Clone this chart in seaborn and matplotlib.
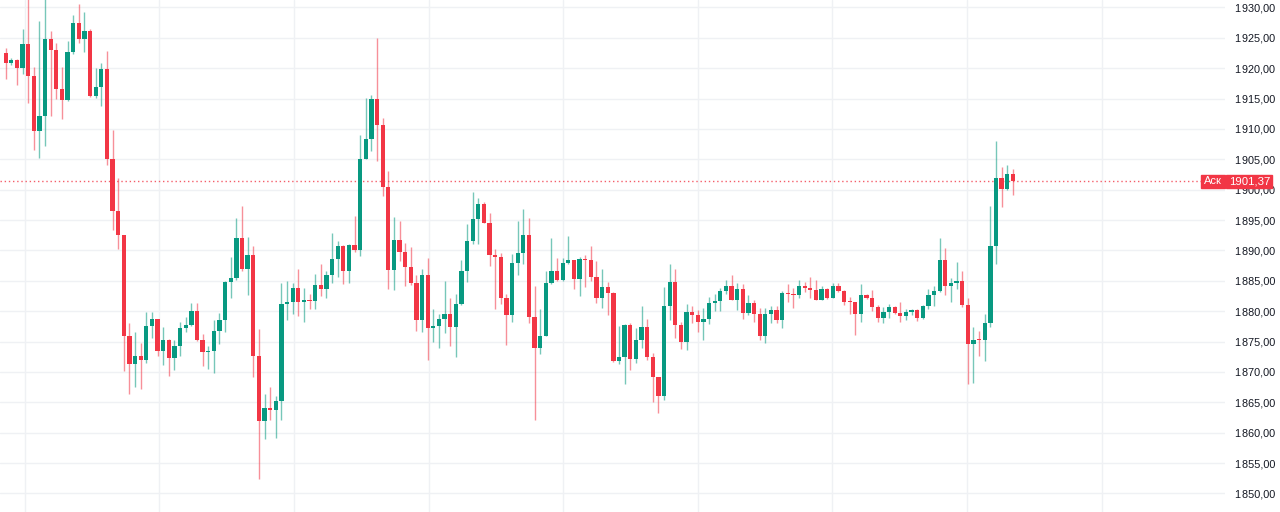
import numpy as np
import pandas as pd
import seaborn as sns
import matplotlib
matplotlib.use("Agg")
import matplotlib.pyplot as plt
from matplotlib.patches import Rectangle
from matplotlib.transforms import blended_transform_factory

# OHLC values (one entry per candle)
opens = [1922.5, 1920.8, 1921.3, 1920.0, 1924.0, 1918.7, 1909.6, 1912.1, 1924.8, 1923.0,
         1916.5, 1914.7, 1922.6, 1927.4, 1924.8, 1926.2, 1915.5, 1916.9, 1919.8, 1905.1,
         1896.5, 1892.5, 1876.0, 1871.3, 1872.7, 1871.9, 1877.6, 1878.7, 1873.4, 1875.3,
         1872.3, 1874.2, 1877.3, 1877.8, 1880.1, 1875.2, 1873.3, 1873.5, 1876.8, 1878.6,
         1884.8, 1885.4, 1892.1, 1887.0, 1889.3, 1872.7, 1862.0, 1864.0, 1863.7, 1865.3,
         1881.2, 1881.6, 1883.8, 1881.6, 1881.8, 1881.7, 1884.3, 1883.7, 1885.9, 1888.6,
         1890.8, 1886.7, 1890.9, 1890.0, 1905.1, 1908.4, 1915.0, 1910.6, 1900.4, 1886.8,
         1891.7, 1889.8, 1887.3, 1884.7, 1878.5, 1886.0, 1877.3, 1877.5, 1878.7, 1879.5,
         1877.4, 1881.2, 1886.7, 1891.6, 1895.1, 1897.7, 1894.6, 1889.2, 1889.0, 1882.2,
         1879.3, 1888.0, 1889.6, 1892.6, 1879.0, 1874.0, 1876.0, 1884.6, 1886.7, 1885.2,
         1887.9, 1888.4, 1885.3, 1888.6, 1888.4, 1885.6, 1882.2, 1884.0, 1883.0, 1871.8,
         1872.4, 1877.8, 1872.2, 1875.2, 1877.4, 1872.5, 1869.1, 1866.1, 1880.8, 1884.8,
         1877.8, 1875.0, 1879.9, 1879.3, 1878.3, 1878.7, 1881.3, 1881.7, 1883.4, 1884.2,
         1881.9, 1883.6, 1879.7, 1881.3, 1879.5, 1875.9, 1879.5, 1880.2, 1878.6, 1883.0,
         1882.8, 1882.6, 1884.1, 1883.9, 1883.5, 1881.9, 1883.7, 1882.2, 1884.2, 1883.4,
         1881.6, 1881.5, 1879.6, 1882.7, 1882.1, 1880.7, 1878.9, 1879.8, 1880.7, 1879.7,
         1879.2, 1879.9, 1880.2, 1878.9, 1880.9, 1882.6, 1883.3, 1888.5, 1884.1, 1884.6,
         1884.9, 1881.0, 1874.6, 1875.3, 1875.2, 1878.1, 1890.7, 1901.9, 1900.1, 1902.6]

highs = [1923.4, 1921.7, 1921.6, 1926.4, 1931.5, 1920.2, 1927.8, 1931.5, 1926.2, 1924.2,
         1920.2, 1924.5, 1928.7, 1930.5, 1929.2, 1926.5, 1920.1, 1920.8, 1922.9, 1909.9,
         1901.9, 1892.6, 1878.0, 1876.5, 1874.7, 1879.8, 1879.9, 1878.8, 1877.4, 1875.4,
         1875.3, 1878.2, 1879.0, 1881.4, 1881.3, 1876.2, 1874.2, 1878.5, 1879.7, 1884.9,
         1888.9, 1895.3, 1897.3, 1892.2, 1890.8, 1877.0, 1866.3, 1867.6, 1866.0, 1884.6,
         1885.0, 1884.7, 1887.0, 1883.8, 1882.9, 1886.1, 1887.7, 1886.6, 1892.9, 1891.6,
         1890.9, 1891.0, 1895.6, 1909.0, 1915.1, 1915.6, 1925.0, 1911.8, 1903.0, 1895.5,
         1894.8, 1891.2, 1890.6, 1886.0, 1887.0, 1888.8, 1880.4, 1879.5, 1884.9, 1882.2,
         1882.8, 1888.4, 1894.4, 1899.7, 1898.6, 1898.0, 1896.2, 1890.2, 1889.6, 1882.9,
         1889.5, 1894.8, 1896.9, 1895.4, 1884.1, 1880.4, 1886.7, 1892.0, 1888.8, 1888.7,
         1892.4, 1888.5, 1889.0, 1889.3, 1890.8, 1888.2, 1886.9, 1884.8, 1883.1, 1877.5,
         1877.9, 1878.1, 1877.3, 1880.9, 1878.7, 1873.2, 1869.2, 1884.0, 1887.7, 1887.0,
         1878.3, 1881.2, 1880.9, 1880.2, 1880.5, 1882.3, 1882.8, 1883.8, 1885.1, 1886.0,
         1884.6, 1884.5, 1882.7, 1881.9, 1880.5, 1880.5, 1880.8, 1880.8, 1883.3, 1884.4,
         1883.8, 1885.1, 1884.8, 1885.7, 1885.2, 1884.2, 1883.8, 1884.6, 1884.6, 1883.5,
         1882.4, 1881.6, 1884.4, 1882.9, 1883.5, 1881.0, 1880.7, 1881.2, 1880.8, 1881.5,
         1880.4, 1880.4, 1880.3, 1881.1, 1883.7, 1884.1, 1892.0, 1890.4, 1885.5, 1888.1,
         1886.7, 1882.1, 1877.4, 1876.8, 1879.6, 1897.3, 1908.0, 1903.7, 1904.1, 1903.4]

lows = [1918.2, 1920.6, 1917.2, 1919.0, 1914.3, 1906.6, 1905.2, 1907.2, 1912.1, 1915.0,
        1911.6, 1914.6, 1922.4, 1924.1, 1922.7, 1915.3, 1915.1, 1913.8, 1904.0, 1893.4,
        1890.2, 1870.1, 1866.3, 1867.5, 1867.2, 1871.5, 1875.6, 1872.6, 1871.2, 1869.3,
        1870.4, 1872.6, 1876.5, 1877.6, 1875.1, 1871.0, 1870.5, 1869.8, 1874.6, 1876.5,
        1882.2, 1885.2, 1886.6, 1882.7, 1869.2, 1852.3, 1858.9, 1862.1, 1859.1, 1862.1,
        1878.6, 1879.5, 1879.2, 1878.2, 1880.3, 1880.4, 1882.5, 1882.1, 1884.7, 1885.6,
        1884.5, 1884.7, 1889.7, 1889.1, 1905.0, 1906.4, 1904.8, 1898.9, 1883.7, 1883.5,
        1888.3, 1884.1, 1884.3, 1876.7, 1876.5, 1872.0, 1874.9, 1874.0, 1876.4, 1874.3,
        1872.5, 1881.1, 1884.8, 1891.1, 1891.0, 1894.5, 1887.4, 1880.4, 1881.2, 1874.4,
        1878.2, 1886.0, 1887.8, 1878.1, 1862.1, 1873.0, 1875.9, 1884.5, 1884.9, 1884.9,
        1887.7, 1883.6, 1882.5, 1884.0, 1884.9, 1881.3, 1880.5, 1879.3, 1871.7, 1871.3,
        1868.1, 1870.4, 1871.5, 1874.0, 1871.9, 1865.1, 1863.3, 1865.4, 1878.5, 1875.6,
        1873.7, 1873.6, 1878.0, 1876.6, 1875.3, 1877.9, 1880.1, 1880.0, 1882.8, 1881.8,
        1880.2, 1878.7, 1879.4, 1878.3, 1875.3, 1874.7, 1878.0, 1878.0, 1877.3, 1881.5,
        1880.6, 1882.2, 1883.1, 1882.2, 1881.8, 1881.8, 1882.0, 1882.1, 1883.1, 1881.0,
        1879.5, 1876.1, 1878.2, 1882.0, 1880.0, 1878.2, 1878.1, 1878.9, 1879.5, 1878.2,
        1878.6, 1879.3, 1878.4, 1878.8, 1880.4, 1880.8, 1883.2, 1882.6, 1881.6, 1883.6,
        1880.7, 1868.0, 1868.2, 1872.6, 1871.8, 1877.4, 1887.7, 1897.1, 1900.0, 1899.1]

closes = [1920.8, 1921.3, 1920.0, 1924.0, 1918.7, 1909.6, 1912.1, 1924.8, 1923.0, 1916.5,
          1914.7, 1922.6, 1927.4, 1924.8, 1926.2, 1915.5, 1916.9, 1919.8, 1905.1, 1896.5,
          1892.5, 1876.0, 1871.3, 1872.7, 1871.9, 1877.6, 1878.7, 1873.4, 1875.3, 1872.3,
          1874.2, 1877.3, 1877.8, 1880.1, 1875.2, 1873.3, 1873.5, 1876.8, 1878.6, 1884.8,
          1885.4, 1892.1, 1887.0, 1889.3, 1872.7, 1862.0, 1864.0, 1863.7, 1865.3, 1881.2,
          1881.6, 1883.8, 1881.6, 1881.8, 1881.7, 1884.3, 1883.7, 1885.9, 1888.6, 1890.8,
          1886.7, 1890.9, 1890.0, 1905.1, 1908.4, 1915.0, 1910.6, 1900.4, 1886.8, 1891.7,
          1889.8, 1887.3, 1884.7, 1878.5, 1886.0, 1877.3, 1877.5, 1878.7, 1879.5, 1877.4,
          1881.2, 1886.7, 1891.6, 1895.1, 1897.7, 1894.6, 1889.2, 1889.0, 1882.2, 1879.3,
          1888.0, 1889.6, 1892.6, 1879.0, 1874.0, 1876.0, 1884.6, 1886.7, 1885.2, 1887.9,
          1888.4, 1885.3, 1888.6, 1888.4, 1885.6, 1882.2, 1884.0, 1883.0, 1871.8, 1872.4,
          1877.8, 1872.2, 1875.2, 1877.4, 1872.5, 1869.1, 1866.1, 1880.8, 1884.8, 1877.8,
          1875.0, 1879.9, 1879.3, 1878.3, 1878.7, 1881.3, 1881.7, 1883.4, 1884.2, 1881.9,
          1883.6, 1879.7, 1881.3, 1879.5, 1875.9, 1879.5, 1880.2, 1878.6, 1883.0, 1882.8,
          1882.6, 1884.1, 1883.9, 1883.5, 1881.9, 1883.7, 1882.2, 1884.2, 1883.4, 1881.6,
          1881.5, 1879.6, 1882.7, 1882.1, 1880.7, 1878.9, 1879.8, 1880.7, 1879.7, 1879.2,
          1879.9, 1880.2, 1878.9, 1880.9, 1882.6, 1883.3, 1888.5, 1884.1, 1884.6, 1884.9,
          1881.0, 1874.6, 1875.3, 1875.2, 1878.1, 1890.7, 1901.9, 1900.1, 1902.6, 1901.37]

price_ticks = list(range(1850, 1931, 5))
last_price = 1901.37
ask_text = "Аск"

UP = "#089981"
DOWN = "#f23645"
GRID = "#eff1f4"
TEXT = "#131722"

df = pd.DataFrame({"open": opens, "high": highs, "low": lows, "close": closes})
df["idx"] = np.arange(len(df))
df["up"] = df["close"] >= df["open"]
df["color"] = np.where(df["up"], UP, DOWN)
df["bottom"] = df[["open", "close"]].min(axis=1)
df["height"] = (df["close"] - df["open"]).abs().clip(lower=0.17)

sns.set_theme(style="white")
plt.rcParams["font.family"] = ["Liberation Sans", "DejaVu Sans"]

fig = plt.figure(figsize=(12.8, 5.12), dpi=100)
ax = fig.add_axes([0, 0, 1225 / 1280, 1])

# grid
for p in price_ticks:
    ax.axhline(p, color=GRID, lw=1, zorder=0)
for k in range(9):
    ax.axvline(3.4 + 23.92 * k, color=GRID, lw=1, zorder=0)

# wicks and bodies
ax.vlines(df["idx"], df["low"], df["high"], colors=df["color"], lw=1, alpha=0.55, zorder=2)
ax.bar(df["idx"], df["height"], bottom=df["bottom"], width=0.76,
       color=df["color"], linewidth=0, zorder=3)

# last price dotted line
ax.axhline(last_price, color=DOWN, lw=1, alpha=0.8, ls=(0, (1, 2)), zorder=1)

ax.set_xlim(-1.01, 216.7)
ax.set_ylim(1846.95, 1931.23)
ax.set_xticks([])
ax.yaxis.tick_right()
ax.set_yticks(price_ticks)
ax.set_yticklabels([f"{p // 1000}\u200a{p % 1000:03d},00" for p in price_ticks])
ax.tick_params(axis="y", length=0, pad=7, labelsize=7.8, labelcolor=TEXT)
for s in ax.spines.values():
    s.set_visible(False)

# ask label on the price scale
tr = blended_transform_factory(fig.transFigure, ax.transData)
h = 13 / 6.075
ax.add_patch(Rectangle((1200.5 / 1280, last_price - h / 2), 24.5 / 1280, h,
                       transform=tr, color=DOWN, clip_on=False, zorder=5))
ax.add_patch(Rectangle((1226 / 1280, last_price - h / 2), 46 / 1280, h,
                       transform=tr, color=DOWN, clip_on=False, zorder=5))
ax.text(1212.8 / 1280, last_price, ask_text, transform=tr, ha="center", va="center",
        color="white", fontsize=8, clip_on=False, zorder=6)
ax.text(1249.5 / 1280, last_price, f"{last_price:.2f}".replace(".", ","), transform=tr,
        ha="center", va="center", color="white", fontsize=8.2, clip_on=False, zorder=6)

fig.savefig("out.png", dpi=100, facecolor="white")
